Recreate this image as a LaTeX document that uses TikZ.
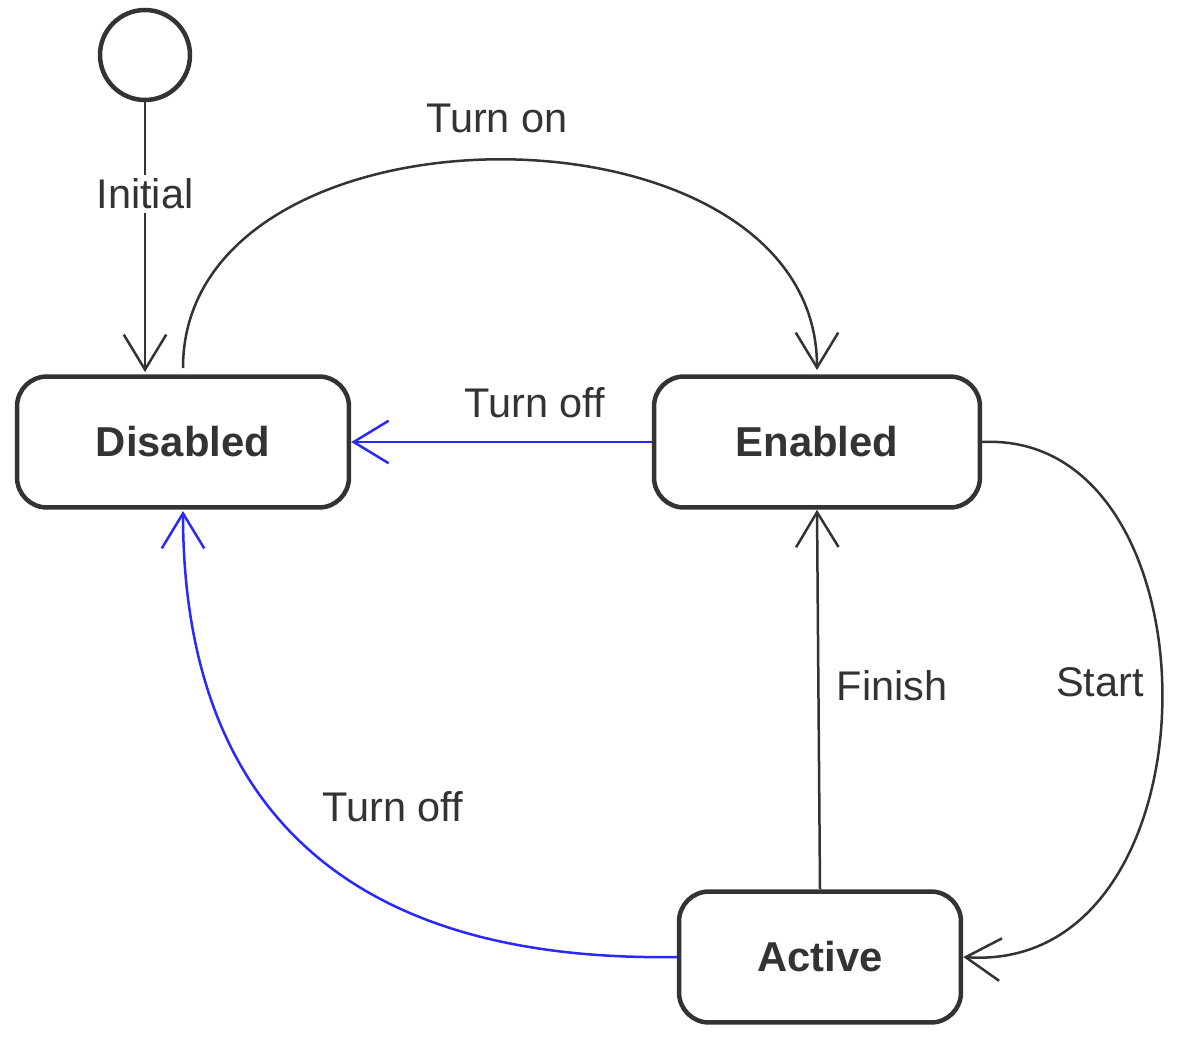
\documentclass[tikz,border=0pt]{standalone}
\usepackage{fontspec}
\setmainfont{Liberation Sans}
\usetikzlibrary{arrows.meta}
\definecolor{stategray}{RGB}{51,51,51}
\definecolor{offblue}{RGB}{40,40,255}
\tikzset{
  statebox/.style={shape=rectangle,draw=stategray,line width=0.09cm,rounded corners=0.6cm,minimum height=2.62cm,text=stategray,font=\fontsize{23.8}{28}\selectfont\bfseries},
  trans/.style={draw=stategray,line width=0.05cm,-{Straight Barb[length=0.7cm,width=0.85cm,line width=0.05cm]}},
  translabel/.style={text=stategray,font=\fontsize{23.6}{28}\selectfont,fill=white,inner sep=2pt}
}
\begin{document}
\begin{tikzpicture}[x=0.02cm,y=-0.02cm]
\useasboundingbox (0,0) rectangle (1200,1051);
\node[shape=circle,draw=stategray,line width=0.09cm,minimum size=1.8cm] (init) at (145,55) {};
\node[statebox,minimum width=6.64cm] (disabled) at (183,442) {Disabled};
\node[statebox,minimum width=6.52cm] (enabled) at (817,442) {Enabled};
\node[statebox,minimum width=5.64cm] (active) at (820,957) {Active};
% transitions
\draw[trans] (init) -- node[translabel,pos=0.34] {Initial} (145,372);
\draw[trans] (183,368) .. controls (183,90) and (817,90) .. (817,370);
\node[translabel] (turnon) at (497,118) {Turn on};
\draw[trans,draw=offblue] (enabled.west) -- (disabled.east);
\node[translabel] (turnoff1) at (535,403) {Turn off};
\draw[trans] (enabled.east) .. controls (1225,430) and (1225,975) .. (active.east);
\node[translabel] (start) at (1100,682) {Start};
\draw[trans] (active.north) -- (enabled.south);
\node[translabel] (finish) at (892,686) {Finish};
\draw[trans,draw=offblue] (active.west) .. controls (300,963) and (183,760) .. (183,511);
\node[translabel] (turnoff2) at (393,807) {Turn off};
\end{tikzpicture}
\end{document}
